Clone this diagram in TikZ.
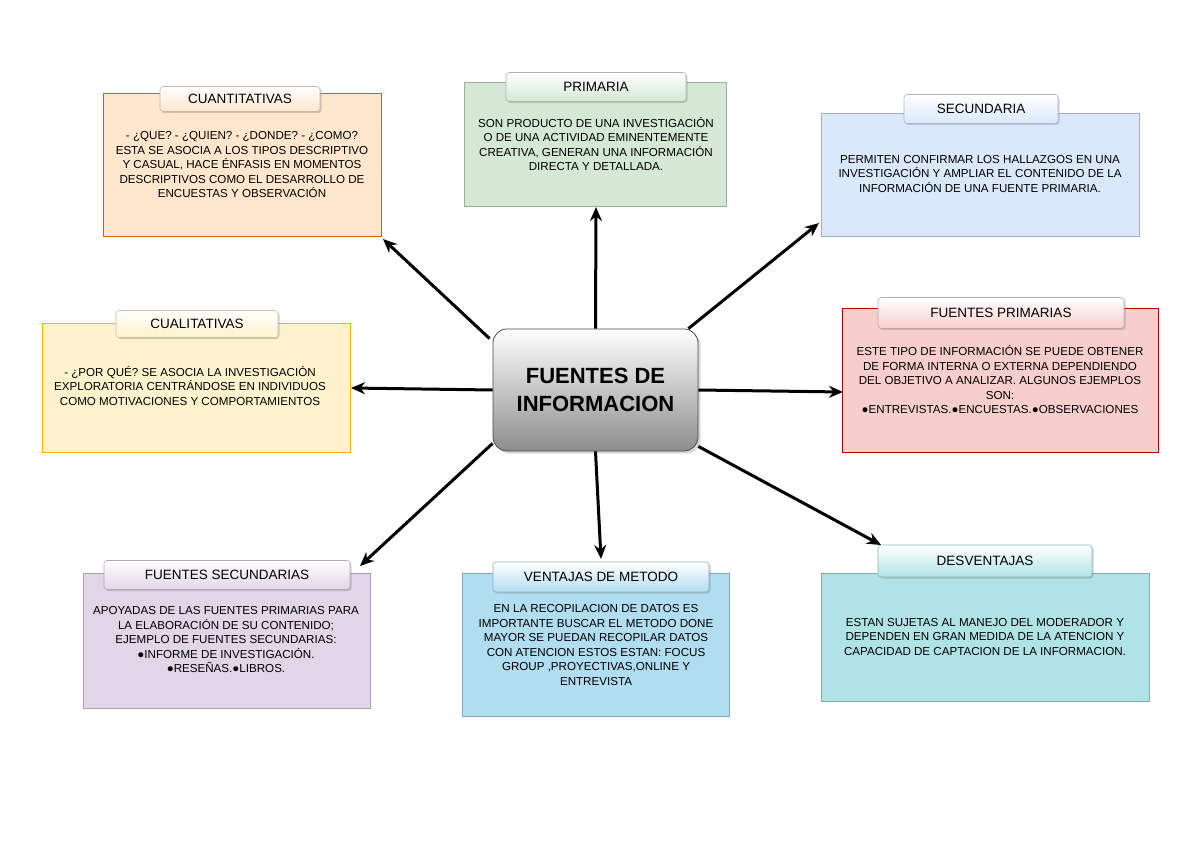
\documentclass[tikz,border=0pt]{standalone}
\usepackage{fontspec}
\setmainfont{Liberation Sans}
\usetikzlibrary{arrows.meta,shadows}
\begin{document}
\begin{tikzpicture}[x=1pt,y=-1pt,
 box/.style={draw=#1!75!black,fill=#1,line width=0.8pt},
 tab/.style={rounded corners=3pt,draw=#1!80!black,top color=white,bottom color=#1,drop shadow={opacity=0.35,shadow xshift=1.5pt,shadow yshift=-1.5pt},font=\fontsize{13.5}{15}\selectfont,line width=0.6pt},
 body/.style={align=center,font=\fontsize{11.6}{14.5}\selectfont,inner sep=0pt},
 arr/.style={-{Stealth[length=14pt,width=12pt]},line width=3pt}]
\definecolor{cor}{HTML}{FFE6CC}
\definecolor{cgr}{HTML}{D5E8D4}
\definecolor{cbl}{HTML}{DAE8FC}
\definecolor{cye}{HTML}{FFF2CC}
\definecolor{cre}{HTML}{F8CECC}
\definecolor{cpu}{HTML}{E1D5E7}
\definecolor{ccy}{HTML}{B1DDF0}
\definecolor{cte}{HTML}{B0E3E6}
\useasboundingbox[fill=white] (0,0) rectangle (1200,853);
% boxes
\draw[box=cor,draw=orange!80!black] (103,93) rectangle (381,236);
\node[body] (t1) at (242,165) {- ¿QUE? - ¿QUIEN? - ¿DONDE? - ¿COMO?\\ESTA SE ASOCIA A LOS TIPOS DESCRIPTIVO\\Y CASUAL, HACE ÉNFASIS EN MOMENTOS\\DESCRIPTIVOS COMO EL DESARROLLO DE\\ENCUESTAS Y OBSERVACIÓN};
\node[tab=cor,minimum width=160pt,minimum height=25pt] (h1) at (240,99) {CUANTITATIVAS};

\draw[box=cgr] (464,82) rectangle (726,206);
\node[body] (t2) at (596,144) {SON PRODUCTO DE UNA INVESTIGACIÓN\\O DE UNA ACTIVIDAD EMINENTEMENTE\\CREATIVA, GENERAN UNA INFORMACIÓN\\DIRECTA Y DETALLADA.};
\node[tab=cgr,minimum width=180pt,minimum height=29pt] (h2) at (596,87) {PRIMARIA};

\draw[box=cbl] (821,113) rectangle (1139,236);
\node[body] (t3) at (980,174) {PERMITEN CONFIRMAR LOS HALLAZGOS EN UNA\\INVESTIGACIÓN Y AMPLIAR EL CONTENIDO DE LA\\INFORMACIÓN DE UNA FUENTE PRIMARIA.};
\node[tab=cbl,minimum width=154pt,minimum height=29pt] (h3) at (981,109) {SECUNDARIA};

\draw[box=cye,draw=orange!60!yellow] (42,323) rectangle (350,452);
\node[body] (t4) at (190,386) {- ¿POR QUÉ? SE ASOCIA LA INVESTIGACIÓN\\EXPLORATORIA CENTRÁNDOSE EN INDIVIDUOS\\COMO MOTIVACIONES Y COMPORTAMIENTOS};
\node[tab=cye,minimum width=162pt,minimum height=27pt] (h4) at (197,324) {CUALITATIVAS};

\draw[box=cre,draw=red!70!black] (842,308) rectangle (1158,452);
\node[body] (t5) at (1000,380) {ESTE TIPO DE INFORMACIÓN SE PUEDE OBTENER\\DE FORMA INTERNA O EXTERNA DEPENDIENDO\\DEL OBJETIVO A ANALIZAR. ALGUNOS EJEMPLOS\\SON:\\●ENTREVISTAS.●ENCUESTAS.●OBSERVACIONES};
\node[tab=cre,minimum width=246pt,minimum height=31pt] (h5) at (1001,313) {FUENTES PRIMARIAS};

\draw[box=cpu] (83,573) rectangle (370,708);
\node[body] (t6) at (226,640) {APOYADAS DE LAS FUENTES PRIMARIAS PARA\\LA ELABORACIÓN DE SU CONTENIDO;\\EJEMPLO DE FUENTES SECUNDARIAS:\\●INFORME DE INVESTIGACIÓN.\\●RESEÑAS.●LIBROS.};
\node[tab=cpu,minimum width=246pt,minimum height=29pt] (h6) at (227,575) {FUENTES SECUNDARIAS};

\draw[box=ccy] (462,573) rectangle (729,716);
\node[body] (t7) at (596,645) {EN LA RECOPILACION DE DATOS ES\\IMPORTANTE BUSCAR EL METODO DONE\\MAYOR SE PUEDAN RECOPILAR DATOS\\CON ATENCION ESTOS ESTAN: FOCUS\\GROUP ,PROYECTIVAS,ONLINE Y\\ENTREVISTA};
\node[tab=ccy,minimum width=216pt,minimum height=30pt] (h7) at (601,577) {VENTAJAS DE METODO};

\draw[box=cte] (821,573) rectangle (1149,701);
\node[body] (t8) at (985,637) {ESTAN SUJETAS AL MANEJO DEL MODERADOR Y\\DEPENDEN EN GRAN MEDIDA DE LA ATENCION Y\\CAPACIDAD DE CAPTACION DE LA INFORMACION.};
\node[tab=cte,minimum width=214pt,minimum height=32pt] (h8) at (985,561) {DESVENTAJAS};

% center
\node[draw=black!70,line width=0.8pt,rounded corners=14pt,top color=white,bottom color=black!45,minimum width=205pt,minimum height=122pt,align=center,font=\fontsize{22}{28}\selectfont\bfseries,drop shadow={opacity=0.3}] (c) at (595.5,390) {FUENTES DE\\INFORMACION};

\coordinate (e1) at (383,239);
\coordinate (e2) at (596,207);
\coordinate (e3) at (819,223);
\coordinate (e4) at (351,388);
\coordinate (e5) at (843,392);
\coordinate (e6) at (360,566);
\coordinate (e7) at (601,559);
\coordinate (e8) at (881,545);
\draw[arr] (c.north west) ++(-3,10) -- (e1);
\draw[arr] (c.north) -- (e2);
\draw[arr] (c.north east) ++(-10,0) -- (e3);
\draw[arr] (c.west) -- (e4);
\draw[arr] (c.east) -- (e5);
\draw[arr] (c.south west) ++(0,-8) -- (e6);
\draw[arr] (c.south) -- (e7);
\draw[arr] (c.south east) ++(0,-5) -- (e8);
\end{tikzpicture}
\end{document}
